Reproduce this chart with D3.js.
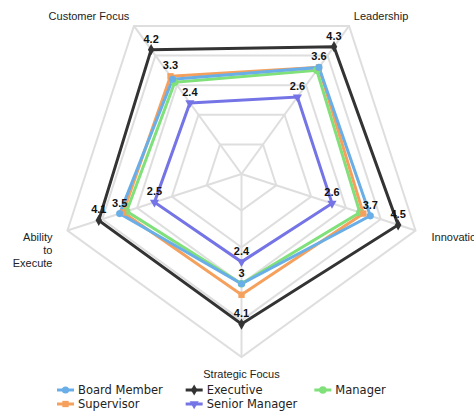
<!DOCTYPE html>
<html>
<head>
<meta charset="utf-8">
<script src="https://cdn.jsdelivr.net/npm/d3@7"></script>
<style>
  body { margin: 0; background: #fff; }
  svg { display: block; }
</style>
</head>
<body>
<svg></svg>
<script>
// axes go clockwise, starting top-left
const axes = ["Customer Focus", "Leadership", "Innovation", "Strategic Focus", "Ability to Execute"];
const levels = [1, 2, 3, 4, 5];

const boardMember   = [3.2, 3.6, 3.7, 3.0, 3.5];
const supervisor    = [3.3, 3.6, 3.5, 3.3, 3.4];
const executive     = [4.2, 4.3, 4.5, 4.1, 4.1];
const seniorManager = [2.4, 2.6, 2.6, 2.4, 2.5];
const manager       = [3.1, 3.5, 3.4, 3.0, 3.3];

// which axis points carry a value label (index into axes)
const boardLabels = [2, 3, 4];
const supervisorLabels = [0, 1];
const executiveLabels = [0, 1, 2, 3, 4];
const seniorLabels = [0, 1, 2, 3, 4];
const managerLabels = [];

const series = [
  { name: "Board Member", values: boardMember, labels: boardLabels, color: "#6aaee8", symbol: d3.symbolCircle, size: 40 },
  { name: "Supervisor", values: supervisor, labels: supervisorLabels, color: "#f5a05c", symbol: d3.symbolSquare, size: 40 },
  { name: "Executive", values: executive, labels: executiveLabels, color: "#333333", symbol: d3.symbolDiamond, size: 36 },
  { name: "Senior Manager", values: seniorManager, labels: seniorLabels, color: "#7474e6", symbol: d3.symbolTriangle, size: 36, rotate: 180 },
  { name: "Manager", values: manager, labels: managerLabels, color: "#80e07a", symbol: d3.symbolCircle, size: 44 }
];
// bottom to top
const drawOrder = ["Manager", "Supervisor", "Board Member", "Senior Manager", "Executive"];

const size = { width: 474, height: 420 };
const center = { x: 241.5, y: 174 };
const radius = 183;

const svg = d3.select("svg").attr("width", size.width).attr("height", size.height);

const rScale = d3.scaleLinear().domain([0, 5]).range([0, radius]);
const aScale = d3.scaleLinear().domain([0, axes.length]).range([-Math.PI / 5, -Math.PI / 5 + 2 * Math.PI]);

const px = (i, v) => center.x + rScale(v) * Math.sin(aScale(i));
const py = (i, v) => center.y - rScale(v) * Math.cos(aScale(i));

const chart = svg.append("g").attr("transform", `translate(${center.x},${center.y})`);

const radial = d3.lineRadial()
  .angle((_, i) => aScale(i))
  .radius(d => rScale(d))
  .curve(d3.curveLinearClosed);

// grid
chart.selectAll(".ring").data(levels).enter().append("path")
  .attr("class", "ring")
  .attr("d", l => radial(axes.map(() => l)))
  .attr("fill", "none")
  .attr("stroke", "#dedede")
  .attr("stroke-width", 2);

chart.selectAll(".spoke").data(axes).enter().append("line")
  .attr("class", "spoke")
  .attr("x1", 0).attr("y1", 0)
  .attr("x2", (_, i) => px(i, 5) - center.x)
  .attr("y2", (_, i) => py(i, 5) - center.y)
  .attr("stroke", "#dedede")
  .attr("stroke-width", 2);

// series
const ordered = drawOrder.map(n => series.find(s => s.name === n));
ordered.forEach(s => {
  chart.append("path")
    .attr("d", radial(s.values))
    .attr("fill", "none")
    .attr("stroke", s.color)
    .attr("stroke-width", 3)
    .attr("stroke-linejoin", "miter");
});
ordered.forEach(s => {
  const sym = d3.symbol().type(s.symbol).size(s.size);
  svg.append("g").selectAll("path").data(s.values).enter().append("path")
    .attr("d", sym)
    .attr("fill", s.color)
    .attr("transform", (d, i) => `translate(${px(i, d)},${py(i, d)}) rotate(${s.rotate || 0})`);
});
ordered.forEach(s => {
  svg.append("g").selectAll("text").data(s.labels).enter().append("text")
    .attr("x", i => px(i, s.values[i]))
    .attr("y", i => py(i, s.values[i]) - 7)
    .attr("text-anchor", "middle")
    .attr("font-family", "Liberation Sans, Arial, sans-serif")
    .attr("font-size", 11)
    .attr("font-weight", "bold")
    .attr("fill", "#111")
    .text(i => s.values[i]);
});

// axis titles
const titleFont = "Liberation Sans, Arial, sans-serif";
const titles = [
  { lines: ["Customer Focus"], dx: -45, dy: -6, anchor: "middle" },
  { lines: ["Leadership"], dx: 32, dy: -6, anchor: "middle" },
  { lines: ["Innovation"], dx: 16, dy: 10, anchor: "start" },
  { lines: ["Strategic Focus"], dx: 0, dy: 21, anchor: "middle" },
  { lines: ["Ability", "to", "Execute"], dx: -15, dy: 10, anchor: "end" }
];
titles.forEach((t, i) => {
  const txt = svg.append("text")
    .attr("x", px(i, 5) + t.dx)
    .attr("y", py(i, 5) + t.dy)
    .attr("text-anchor", t.anchor)
    .attr("font-family", titleFont)
    .attr("font-size", 11)
    .attr("fill", "#222");
  t.lines.forEach((l, j) => {
    txt.append("tspan").attr("x", px(i, 5) + t.dx).attr("dy", j === 0 ? 0 : 13).text(l);
  });
});

// legend
const legendOrder = ["Board Member", "Executive", "Manager", "Supervisor", "Senior Manager"];
const colX = d3.scaleBand().domain([0, 1, 2]).range([57, 443]);
const rowY = d3.scalePoint().domain([0, 1]).range([390, 404]);
const legend = svg.append("g");
legendOrder.forEach((n, k) => {
  const s = series.find(d => d.name === n);
  const x = colX(k % 3), y = rowY(Math.floor(k / 3));
  legend.append("line")
    .attr("x1", x).attr("x2", x + 17).attr("y1", y).attr("y2", y)
    .attr("stroke", s.color).attr("stroke-width", 3);
  legend.append("path")
    .attr("d", d3.symbol().type(s.symbol).size(s.size)())
    .attr("fill", s.color)
    .attr("transform", `translate(${x + 8.5},${y}) rotate(${s.rotate || 0})`);
  legend.append("text")
    .attr("x", x + 21).attr("y", y + 4)
    .attr("font-family", "DejaVu Sans, sans-serif")
    .attr("font-size", 11.5)
    .attr("fill", "#222")
    .text(n);
});
</script>
</body>
</html>
